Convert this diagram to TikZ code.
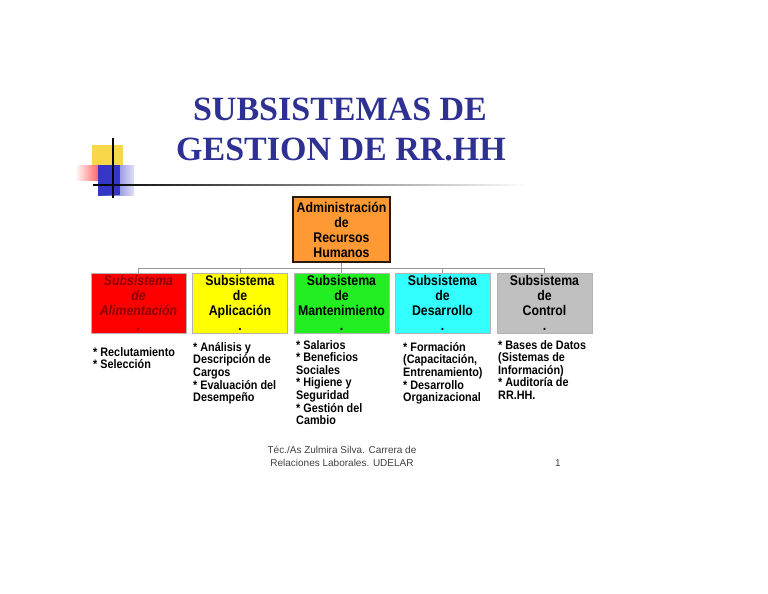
\documentclass[tikz,border=0pt]{standalone}
\usepackage{fontspec}
\setmainfont{Liberation Serif}
\newfontfamily\arialf{Liberation Sans}
\newfontfamily\arialn[FakeStretch=0.88]{Liberation Sans}
\usetikzlibrary{calc}
\definecolor{titleblue}{HTML}{2E3192}
\definecolor{orangebox}{HTML}{FF9933}
\definecolor{redbox}{HTML}{FF0000}
\definecolor{yellowbox}{HTML}{FFFF00}
\definecolor{greenbox}{HTML}{22EE22}
\definecolor{cyanbox}{HTML}{33FFFF}
\definecolor{graybox}{HTML}{C0C0C0}
\definecolor{darkred}{HTML}{8B0000}
\definecolor{decoyellow}{HTML}{F8D84A}
\definecolor{decoblue}{HTML}{3535C8}
\tikzset{
  titletext/.style={anchor=base, text=titleblue, font=\fontsize{34}{40}\selectfont\bfseries},
  subbox/.style={draw=gray!60, line width=0.6pt, minimum width=95pt, minimum height=60pt, inner sep=0pt, align=center, font=\arialn\bfseries\fontsize{14}{15}\selectfont},
  topbox/.style={draw=black!80!brown, line width=1.3pt, fill=orangebox, minimum width=97pt, minimum height=65pt, inner sep=0pt, align=center, font=\arialn\bfseries\fontsize{14}{15}\selectfont},
  listtext/.style={anchor=north west, inner sep=0pt, align=left, font=\arialn\bfseries\fontsize{12.3}{12.6}\selectfont},
  foot/.style={inner sep=0pt, align=center, text=black!75, font=\arialf\fontsize{10}{13}\selectfont},
  conn/.style={draw=gray!80, line width=0.8pt}
}
\begin{document}
\begin{tikzpicture}[x=1pt,y=-1pt]
\useasboundingbox (0,0) rectangle (768,594);
% decoration
\fill[decoyellow] (92,145) rectangle (123,166);
\shade[left color=white, right color=red!90] (75,165) rectangle (110,180);
\shade[left color=decoblue, right color=decoblue!15] (98,165) rectangle (134,195);
\fill[decoblue] (98,165) rectangle (120,195);
\draw[black, line width=1.2pt] (113,138) -- (113,198);
\shade[left color=black, right color=white] (93,184.4) rectangle (530,185.8);
% title
\node[titletext] (t1) at (340,120) {SUBSISTEMAS DE};
\node[titletext] (t2) at (341,160) {GESTION DE RR.HH};
% top box
\node[topbox] (top) at (341.5,229.5) {Administración\\de\\Recursos\\Humanos};
% sub boxes
\node[subbox, fill=redbox, text=darkred, font=\arialn\bfseries\itshape\fontsize{14}{15}\selectfont] (b1) at (138.5,303) {Subsistema\\de\\Alimentación\\.};
\node[subbox, fill=yellowbox] (b2) at (240,303) {Subsistema\\de\\Aplicación\\.};
\node[subbox, fill=greenbox] (b3) at (341.5,303) {Subsistema\\de\\Mantenimiento\\.};
\node[subbox, fill=cyanbox] (b4) at (442.5,303) {Subsistema\\de\\Desarrollo\\.};
\node[subbox, fill=graybox] (b5) at (544.5,303) {Subsistema\\de\\Control\\.};
% connectors
\foreach \b in {b1,b2,b3,b4,b5}{
  \draw[conn] (top.south) -- ++(0,6) -| (\b.north);
}
% lists
\node[listtext] (l1) at (93,347) {* Reclutamiento\\* Selección};
\node[listtext] (l2) at (193,342) {* Análisis y\\Descripción de\\Cargos\\* Evaluación del\\Desempeño};
\node[listtext] (l3) at (296,340) {* Salarios\\* Beneficios\\Sociales\\* Higiene y\\Seguridad\\* Gestión del\\Cambio};
\node[listtext] (l4) at (403,342) {* Formación\\(Capacitación,\\Entrenamiento)\\* Desarrollo\\Organizacional};
\node[listtext] (l5) at (498,340) {* Bases de Datos\\(Sistemas de\\Información)\\* Auditoría de\\RR.HH.};
% footer
\node[foot] (f1) at (342,456.5) {Téc./As Zulmira Silva. Carrera de\\Relaciones Laborales. UDELAR};
\node[foot] (f2) at (558,463) {1};
\end{tikzpicture}
\end{document}
